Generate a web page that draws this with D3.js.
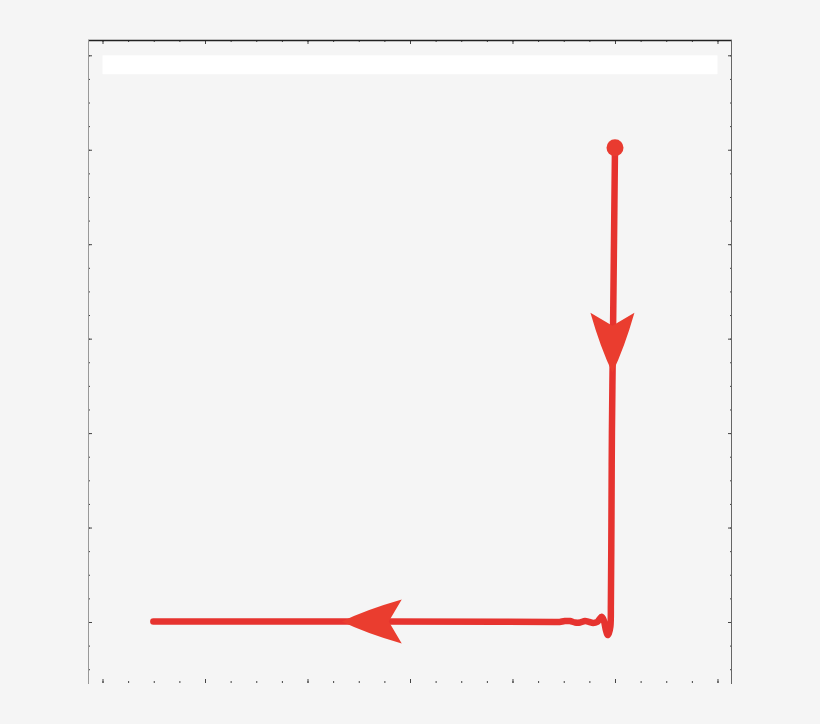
<!DOCTYPE html>
<html>
<head>
<meta charset="utf-8">
<script src="https://cdn.jsdelivr.net/npm/d3@7"></script>
<style>
  html, body { margin: 0; padding: 0; background: #f5f5f5; }
  svg { display: block; }
</style>
</head>
<body>
<script>
// trajectory (data units)
var pathX = [2.0, 1.99, 1.98, 1.97, 1.965, 1.96, 1.955, 1.94, 1.928, 1.91, 1.89, 1.87, 1.845, 1.825, 1.786, 1.75, 1.707, 1.66, 1.61, 1.56, 1.51, 1.46, 1.414, 0.878, -0.6, -2.504];
var pathY = [2.02, 1.0, 0.0, -1.0, -2.0, -2.8, -3.05, -3.12, -3.138, -3.08, -2.98, -2.944, -2.975, -3.0, -3.01, -3.0, -2.99, -3.005, -3.005, -2.99, -2.99, -3.0, -3.0, -2.997, -2.995, -2.995];

// arrowheads: tip position and direction (deg, 0 = pointing right, 90 = down)
var arrowX = [1.975, -0.666];
var arrowY = [-0.36, -2.995];
var arrowDir = [90, 180];

// axis ticks
var xMajor = [-3, -2, -1, 0, 1, 2, 3];
var yMajor = [-3, -2, -1, 0, 1, 2, 3];
var xMinor = d3.range(-3, 3.01, 0.25);
var yMinor = d3.range(-3.5, 3.01, 0.25);

// white box across the top
var boxX = [-3, 3];
var boxY = [3, 2.8];

var width = 820, height = 724;
var margin = {left: 88, right: 88, top: 40, bottom: 41};

var x = d3.scaleLinear().domain([-Math.PI, Math.PI]).range([margin.left, width - margin.right]);
var y = d3.scaleLinear().domain([-3.646, 3.162]).range([height - margin.bottom, margin.top]);

var svg = d3.select("body").append("svg")
    .attr("width", width)
    .attr("height", height);

svg.append("rect")
    .attr("width", width).attr("height", height)
    .attr("fill", "#f5f5f5");

svg.append("rect")
    .attr("x", x(boxX[0]))
    .attr("y", y(boxY[0]))
    .attr("width", x(boxX[1]) - x(boxX[0]))
    .attr("height", y(boxY[1]) - y(boxY[0]))
    .attr("fill", "#ffffff");

// ticks, all pointing inward
function drawAxis(axis, tx, ty, values, size) {
  var g = svg.append("g")
      .attr("transform", "translate(" + tx + "," + ty + ")")
      .call(axis.tickValues(values).tickSizeInner(-size).tickSizeOuter(0).tickFormat(""));
  g.select(".domain").remove();
  g.selectAll(".tick line").attr("stroke", "#444").attr("stroke-width", 1);
  return g;
}

var xTop = y.range()[1], xBot = y.range()[0];
var yLeft = x.range()[0], yRight = x.range()[1];

drawAxis(d3.axisTop(x), 0, xTop, xMinor, 2);
drawAxis(d3.axisTop(x), 0, xTop, xMajor, 4);
drawAxis(d3.axisBottom(x), 0, xBot, xMinor, 2);
drawAxis(d3.axisBottom(x), 0, xBot, xMajor, 4);
drawAxis(d3.axisLeft(y), yLeft, 0, yMinor, 2);
drawAxis(d3.axisLeft(y), yLeft, 0, yMajor, 4);
drawAxis(d3.axisRight(y), yRight, 0, yMinor, 2);
drawAxis(d3.axisRight(y), yRight, 0, yMajor, 4);

// frame lines: top, left, right (no bottom line)
svg.append("line")
    .attr("x1", yLeft).attr("x2", yRight)
    .attr("y1", xTop + 0.5).attr("y2", xTop + 0.5)
    .attr("stroke", "#222").attr("stroke-width", 1.3);
svg.append("line")
    .attr("x1", yLeft + 0.5).attr("x2", yLeft + 0.5)
    .attr("y1", xTop).attr("y2", xBot + 1)
    .attr("stroke", "#999").attr("stroke-width", 1);
svg.append("line")
    .attr("x1", yRight - 0.5).attr("x2", yRight - 0.5)
    .attr("y1", xTop).attr("y2", xBot + 1)
    .attr("stroke", "#666").attr("stroke-width", 1);

// trajectory
var pts = pathX.map(function(d, i) { return [d, pathY[i]]; });
var line = d3.line()
    .x(function(d) { return x(d[0]); })
    .y(function(d) { return y(d[1]); })
    .curve(d3.curveCatmullRom.alpha(0.5));

svg.append("path")
    .attr("d", line(pts))
    .attr("fill", "none")
    .attr("stroke", "#e6332f")
    .attr("stroke-width", 6.5)
    .attr("stroke-linecap", "round")
    .attr("stroke-linejoin", "round");

// start point
svg.append("circle")
    .attr("cx", x(pathX[0]))
    .attr("cy", y(pathY[0]))
    .attr("r", 8.5)
    .attr("fill", "#e93b30");

// arrowheads, tip at origin pointing +x
var head = "M0,0 Q-25,-12 -60,-22 L-47,0 L-60,22 Q-25,12 0,0 Z";
svg.selectAll(".arrow")
    .data(arrowX.map(function(d, i) { return {x: d, y: arrowY[i], a: arrowDir[i]}; }))
  .enter().append("path")
    .attr("class", "arrow")
    .attr("d", head)
    .attr("transform", function(d) { return "translate(" + x(d.x) + "," + y(d.y) + ") rotate(" + d.a + ")"; })
    .attr("fill", "#ea3d2f");
</script>
</body>
</html>
